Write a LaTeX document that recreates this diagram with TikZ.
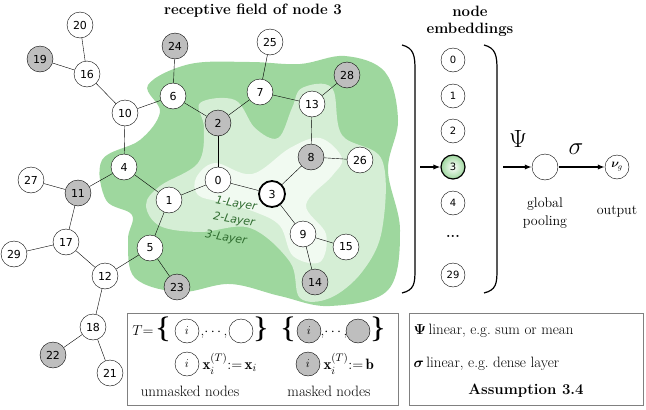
\documentclass[tikz,border=0pt]{standalone}
\usepackage{fontspec}
\usepackage{amsmath}
\newfontfamily\sansf{DejaVu Sans}
\usetikzlibrary{arrows.meta}
\definecolor{g3}{HTML}{9ED79E}
\definecolor{g2}{HTML}{D5EED5}
\definecolor{g1}{HTML}{F1FAF1}
\definecolor{dg}{HTML}{2E6B2E}
\definecolor{gr}{HTML}{BEBEBE}
\begin{document}
\begin{tikzpicture}[x=1pt,y=-1pt,
  v/.style={circle,draw,fill=white,minimum size=26pt,inner sep=0pt,font=\sansf\fontsize{11}{11}\selectfont},
  m/.style={v,fill=gr},
  e/.style={circle,draw,fill=white,minimum size=24pt,inner sep=0pt,font=\sansf\fontsize{10}{10}\selectfont},
  sm/.style={circle,draw,minimum size=24pt,inner sep=0pt,font=\fontsize{13}{13}\selectfont},
  br/.style={font=\fontsize{28}{28}\selectfont},
  tx/.style={font=\fontsize{15}{15}\selectfont},
  lay/.style={font=\sansf\itshape\fontsize{11}{11}\selectfont,text=dg,rotate=-10},
  arr/.style={-{Latex[length=7pt]},line width=1.3pt}]
\useasboundingbox (0,0) rectangle (646,410);
% blobs
\fill[g3] plot[smooth cycle,tension=0.6] coordinates{(148,85)(190,64)(250,62)(300,64)(345,56)(385,72)(398,120)(388,170)(400,230)(388,290)(330,306)(280,296)(230,284)(180,292)(135,278)(128,240)(132,215)(106,200)(102,160)(140,140)(160,112)};
\fill[g2] plot[smooth cycle,tension=0.6] coordinates{(200,103)(235,100)(255,128)(278,138)(292,108)(302,88)(332,88)(342,135)(382,160)(382,230)(362,272)(330,298)(300,298)(290,262)(250,228)(200,232)(160,226)(146,205)(160,186)(198,163)(204,128)};
\fill[g1] plot[smooth cycle,tension=0.6] coordinates{(196,178)(215,163)(252,174)(290,148)(320,138)(342,158)(332,176)(306,205)(326,234)(320,262)(293,256)(280,226)(255,212)(220,202)(198,195)};
% nodes
\foreach \n/\x/\y/\s in {20/80/25/v,19/40/59/m,16/87/74/v,24/175/46/m,25/270/42/v,28/347/75/m,6/173/96/v,7/260/92/v,13/312/104/v,10/125/113/v,2/218/123/m,8/311/157/m,26/360/160/v,4/124/167/v,0/218/180/v,27/31/180/v,11/78/193/m,1/169/200/v,9/303/234/v,15/346/247/v,17/66/242/v,5/150/248/v,29/14/254/v,12/105/276/v,23/177/287/m,14/315/282/m,18/93/327/v,22/53/355/m,21/110/373/v}
  \node[\s] (n\n) at (\x,\y) {\n};
\node[v,line width=1.8pt] (n3) at (272,194) {3};
\foreach \a/\b in {20/16,19/16,16/10,10/6,10/4,24/6,6/2,2/7,25/7,7/13,28/13,13/8,8/26,8/3,2/0,0/3,0/1,1/4,4/11,27/11,11/17,17/29,17/12,12/5,5/1,5/23,12/18,18/22,18/21,3/9,9/15,9/14}
  \draw (n\a) -- (n\b);
\node[lay] at (236,204) {1-Layer};
\node[lay] at (234,220) {2-Layer};
\node[lay] at (226,238) {3-Layer};
\node[font=\bfseries\fontsize{15}{15}\selectfont] (t1) at (253,11) {receptive field of node 3};
\node[font=\bfseries\fontsize{15}{17}\selectfont,align=center] (t2) at (470,21) {node\\embeddings};
% brackets
\draw[line width=1.2pt] (402,45) .. controls (414,48) and (415,56) .. (415,70) -- (415,270) .. controls (415,284) and (414,290) .. (402,293);
\draw[line width=1.2pt] (484,45) .. controls (496,48) and (497,56) .. (497,70) -- (497,270) .. controls (497,284) and (496,290) .. (484,293);
\foreach \n/\y in {0/60,1/96,2/131,4/203,29/275} \node[e] (e\n) at (453,\y) {\n};
\node[e,line width=1.2pt,inner color=white,outer color=g3] (e3) at (453,167) {3};
\node[font=\bfseries\Large] (ed) at (453,236) {...};
\coordinate (a1) at (420,167);
\draw[arr] (a1) -- (e3);
\node[circle,draw,minimum size=26pt] (pool) at (545,167) {};
\coordinate (a2) at (503,167);
\draw[arr] (a2) -- (pool);
\node[font=\fontsize{24}{24}\selectfont] (psi) at (518,139) {$\Psi$};
\node[circle,draw,minimum size=24pt,inner sep=0pt,font=\large] (out) at (617,167) {$\boldsymbol{\nu}_{\!g}$};
\coordinate (a3) at (559,167);
\draw[arr] (a3) -- (out);
\node[font=\fontsize{24}{24}\selectfont] (sig) at (576,149) {$\sigma$};
\node[align=center,font=\fontsize{14}{18}\selectfont] (gp) at (545,213) {global\\pooling};
\node[font=\fontsize{14}{14}\selectfont] (op) at (617,212) {output};
% boxes
\draw[gray,line width=1pt] (127,313) rectangle (398,405);
\draw[gray,line width=1pt] (409,313) rectangle (643,405);
\node[tx] (T) at (143,331) {$T{=}$};
\node[br] (b1) at (163,329) {$\boldsymbol{\{}$};
\node[sm] (s1) at (187,331) {$i$};
\node[tx] (d1) at (214,334) {,$\cdots$,};
\node[sm] (s2) at (241,331) {};
\node[br] (b2) at (261,329) {$\boldsymbol{\}}$};
\node[br] (b3) at (288,329) {$\boldsymbol{\{}$};
\node[sm,fill=gr] (s3) at (309,331) {$i$};
\node[tx] (d2) at (334,334) {,$\cdots$,};
\node[sm,fill=gr] (s4) at (358,331) {};
\node[br] (b4) at (378,329) {$\boldsymbol{\}}$};
\node[sm] (s5) at (187,364) {$i$};
\node[anchor=west,tx] (x1) at (199,364) {$\mathbf{x}_i^{(T)}{:=}\,\mathbf{x}_i$};
\node[sm,fill=gr] (s6) at (308,364) {$i$};
\node[anchor=west,tx] (x2) at (320,364) {$\mathbf{x}_i^{(T)}{:=}\,\mathbf{b}$};
\node[tx] (u1) at (190,391) {unmasked nodes};
\node[tx] (u2) at (329,391) {masked nodes};
\node[anchor=west,tx] (r1) at (410,331) {$\boldsymbol{\Psi}$\,linear, e.g.\ sum or mean};
\node[anchor=west,tx] (r2) at (410,364) {$\boldsymbol{\sigma}$\,linear, e.g.\ dense layer};
\node[font=\bfseries\fontsize{15}{15}\selectfont] (r3) at (526,391) {Assumption 3.4};
\end{tikzpicture}
\end{document}
